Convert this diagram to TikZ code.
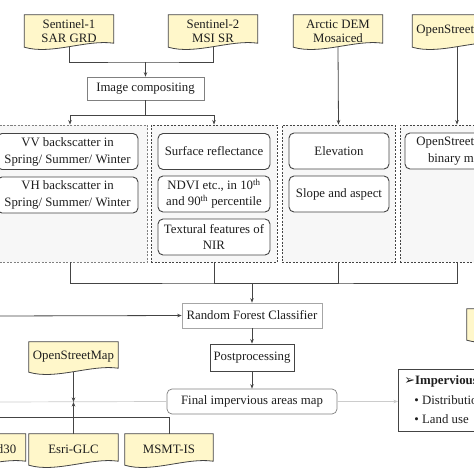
\documentclass[tikz,border=0pt]{standalone}
\usepackage{fontspec}
\setmainfont{Liberation Serif}
\newfontfamily\symfont{DejaVu Sans}
\usetikzlibrary{arrows.meta,backgrounds}

\definecolor{docyellow}{RGB}{255,247,202}
\definecolor{linegray}{RGB}{68,68,68}
\definecolor{groupfill}{RGB}{247,247,247}
\definecolor{txt}{RGB}{30,30,30}

\tikzstyle{source} = [text centered, align=center, minimum width=89pt, minimum height=32pt,%
                      inner sep=2pt, font=\fontsize{12.8}{14}\selectfont]
\tikzstyle{docshape} = [draw=linegray, fill=docyellow, line width=0.8pt]
\tikzstyle{grp} = [draw=gray, dash pattern=on 2pt off 1.5pt, fill=groupfill, line width=0.9pt, minimum height=137pt]
\tikzstyle{feat} = [draw=linegray, fill=white, rounded corners=5pt, line width=0.9pt,%
                    text centered, align=center, minimum height=36pt]
\tikzstyle{proc} = [draw=gray, fill=white, text centered, minimum height=25pt, line width=0.7pt]
\tikzstyle{link} = [draw=linegray, line width=0.8pt]
\tikzstyle{flow} = [link, ->]
\tikzstyle{faint} = [draw=black!20, line width=0.7pt]

\begin{document}
\begin{tikzpicture}[x=1pt, y=-1pt, >={Stealth[length=4.5pt,width=3.5pt]},
                    every node/.style={font=\fontsize{12.8}{17}\selectfont, text=txt}]

	\useasboundingbox (0,0) rectangle (474,474);

	% feature groups
	\node (g1) [grp, minimum width=155pt] at (70,193.5) {};
	\node (g2) [grp, draw=linegray, minimum width=126pt] at (214,193.5) {};
	\node (g3) [grp, draw=linegray, minimum width=113pt] at (338.5,193.5) {};
	\node (g4) [grp, draw=linegray, minimum width=114pt] at (457,193.5) {};

	\node (vv)    [feat, minimum width=141pt] at (67.5,151.5) {VV backscatter in\\Spring/ Summer/ Winter};
	\node (vh)    [feat, minimum width=141pt] at (67.5,195) {VH backscatter in\\Spring/ Summer/ Winter};
	\node (sr)    [feat, minimum width=112pt] at (214,151.5) {Surface reflectance};
	\node (ndvi)  [feat, minimum width=112pt, font=\fontsize{12.8}{16}\selectfont] at (214,194) {NDVI etc., in 10\textsuperscript{th}\\and 90\textsuperscript{th} percentile};
	\node (tex)   [feat, minimum width=112pt, font=\fontsize{12.8}{16}\selectfont] at (214,237) {Textural features of\\NIR};
	\node (elev)  [feat, minimum width=100pt] at (339,151) {Elevation};
	\node (slope) [feat, minimum width=100pt] at (339,194) {Slope and aspect};
	\node (osmb)  [feat, minimum width=104pt] at (457,151) {OpenStreetMap\\binary map};

	% input data
	\node (s1)  [source] at (69,31) {Sentinel-1\\SAR GRD};
	\node (s2)  [source] at (213,31) {Sentinel-2\\MSI SR};
	\node (dem) [source] at (338,31) {Arctic DEM\\Mosaiced};
	\node (osm) [source] at (457,31) {OpenStreetMap};
	\node (side) [source, minimum height=31pt] at (511.5,324.5) {};

	\node (comp)  [proc, minimum width=117pt, minimum height=23pt] at (145.5,88.5) {Image compositing};
	\node (rf)    [proc, draw=black!35, minimum width=140pt] at (252,315.5) {Random Forest Classifier};
	\node (post)  [proc, draw=linegray, line width=0.9pt, minimum width=84pt, minimum height=27pt] at (252,357.5) {Postprocessing};
	\node (final) [proc, draw=black!50, rounded corners=5pt, minimum width=170pt] at (252,401.5) {Final impervious areas map};
	\node (imp)   [proc, draw=linegray, line width=0.9pt, anchor=west, text centered=false, align=left,%
	               minimum height=62pt, inner xsep=6pt, font=\fontsize{12.8}{19.5}\selectfont] at (398,400)
	              {\textbf{{\symfont ➢}Impervious areas}\\\hspace*{10pt}• Distribution\\\hspace*{10pt}• Land use};

	% reference products
	\node (osm2) [source, minimum height=30pt] at (73.5,357) {OpenStreetMap};
	\node (esri) [source, minimum height=31pt] at (73.5,449.5) {Esri-GLC};
	\node (msmt) [source, minimum width=88pt, minimum height=31pt] at (169,449.5) {MSMT-IS};
	\node (gl30) [source, minimum height=31pt] at (-19,449.5) {GlobeLand30};

	\begin{scope}[on background layer]
		\fill[white] (0,0) rectangle (474,474);
		\foreach \n in {s1,s2,dem,osm,side,osm2,esri,msmt,gl30}
			\draw[docshape] (\n.south west) -- (\n.north west) -- (\n.north east) -- ([shift={(0,-4)}]\n.south east)
				.. controls +(-27,-4) and +(27,8) .. (\n.south west) -- cycle;
	\end{scope}

	\coordinate (j1) at (145.5,62);
	\coordinate (j2) at (145.5,115);
	\coordinate (j3) at (252,283);
	\coordinate (lin) at (-5,316);
	\coordinate (lout) at (-5,402);
	\coordinate (xo) at (73.5,402);

	\draw[link] (s1.south) |- (j1) -| (s2.south);
	\draw[flow] (j1) -- (comp.north);
	\draw[link] (comp.south) -- (j2);
	\draw[flow] (j2) -| (g1.north);
	\draw[flow] (j2) -| (g2.north);
	\draw[flow] (dem.south) -- (g3.north);
	\draw[flow] (osm.south) -- (g4.north);

	\draw[link] (g1.south) |- (j3) -| (g4.south);
	\draw[link] (g2.south) |- (j3);
	\draw[link] (g3.south) |- (j3);
	\draw[flow] (j3) -- (rf.north);
	\draw[flow] (lin) -- (rf.west);
	\draw[flow] (rf) -- (post);
	\draw[flow] (post) -- (final);
	\draw[faint, ->] (final.east) -- (final.east -| imp.west);
	\draw[faint] (final.west) -- (lout);

	\draw[flow, line width=0.6pt] (osm2.south) -- (xo);
	\draw[flow, line width=0.6pt] (esri.north) -- (xo);
	\draw[link] (gl30.north) -- ++(0,-16) -| (msmt.north);
\end{tikzpicture}
\end{document}
